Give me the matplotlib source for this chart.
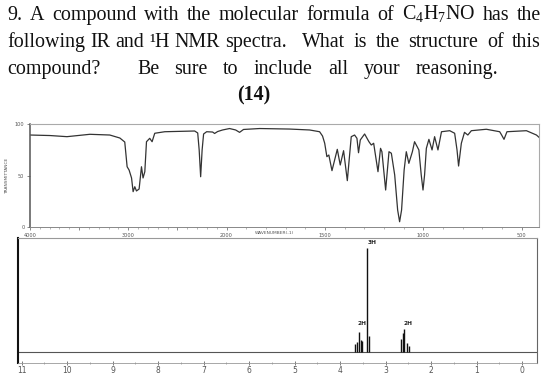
import numpy as np
import matplotlib
matplotlib.use("Agg")
import matplotlib.pyplot as plt
import matplotlib.transforms as mtransforms
from matplotlib.ticker import FixedLocator, FixedFormatter

plt.rcParams['mathtext.fontset'] = 'custom'
plt.rcParams['mathtext.rm'] = 'Liberation Serif'

W, H = 548, 376

#-------------------- question text (lines, split in justified segments)
line1 = ["9. A compound with the molecular formula of C$_\\mathrm{4}$H$_\\mathrm{7}$NO has the"]
line2 = ["following IR and \u00b9H NMR spectra.", "What is the structure of this"]
line3 = ["compound?", "Be sure to include all your reasoning."]
marks_label = "(14)"

#-------------------- IR spectrum (wavenumber cm-1, % transmittance)
ir_wn = [4000, 3797, 3624, 3391, 3188, 3086, 3036, 3012, 2992, 2967, 2951, 2934,
         2917, 2890, 2866, 2850, 2832, 2815, 2782, 2758, 2731, 2629, 2325, 2294,
         2279, 2264, 2249, 2234, 2203, 2142, 2122, 2091, 2041, 1985, 1954, 1934,
         1914, 1832, 1680, 1578, 1527, 1512, 1501, 1490, 1480, 1464, 1437, 1422,
         1405, 1386, 1366, 1349, 1337, 1329, 1320, 1298, 1276, 1264, 1252, 1230,
         1217, 1210, 1191, 1174, 1162, 1145, 1130, 1120, 1110, 1097, 1086, 1073,
         1055, 1044, 1022, 1010, 1001, 993, 984, 971, 955, 942, 925, 907, 865,
         840, 828, 820, 806, 790, 773, 755, 679, 611, 601, 589, 574, 475, 424, 411]
ir_t = [89.3, 88.8, 87.7, 90.0, 89.3, 86.4, 82.5, 58.5, 55.3, 47.6, 34.3, 39.1,
        35.0, 36.9, 58.5, 47.6, 53.7, 82.8, 86.1, 82.8, 91.0, 92.5, 93.2, 91.3,
        74.8, 48.8, 74.8, 90.3, 92.5, 92.2, 90.8, 92.7, 94.2, 95.6, 94.2, 91.9,
        94.7, 95.6, 95.1, 94.2, 92.5, 88.3, 81.3, 68.3, 69.9, 54.7, 75.4, 60.2,
        74.1, 45.0, 87.7, 89.3, 86.1, 72.1, 84.5, 90.3, 82.8, 79.6, 81.3, 53.7,
        76.4, 73.1, 35.9, 73.1, 71.6, 50.5, 16.5, 5.1, 16.5, 55.3, 73.1, 61.8,
        73.1, 82.8, 74.8, 50.5, 35.9, 50.5, 76.4, 85.1, 74.8, 87.7, 74.8, 92.5, 93.5,
        91.0, 74.8, 59.2, 81.3, 91.9, 89.3, 93.5, 94.9, 92.5, 89.3, 85.1, 92.5, 93.5, 89.3, 87.1]
ir_major = [4000, 3500, 3000, 2500, 2000, 1500, 1000, 500]
ir_major_labels = ["4000", "", "3000", "", "2000", "1500", "1000", "500"]

#-------------------- 1H NMR lines (ppm, relative height)
nmr_ppm = [3.67, 3.625, 3.585, 3.54, 3.51, 3.40, 3.365, 2.665, 2.62, 2.595, 2.525, 2.495]
nmr_int = [0.08, 0.10, 0.19, 0.115, 0.105, 1.00, 0.15, 0.12, 0.18, 0.22, 0.085, 0.06]
nmr_labels = ["3H", "2H", "2H"]
nmr_label_ppm = [3.30, 3.52, 2.51]
nmr_label_y = [1.05, 0.27, 0.27]

fig = plt.figure(figsize=(W / 100, H / 100), dpi=100)
fig.patch.set_facecolor("white")
pix = mtransforms.IdentityTransform()
renderer = fig.canvas.get_renderer()

def put_words(text, x0, x1, y, **kw):
    # spread the words of text so they fill x0..x1 (image pixels)
    words = text.split()
    objs = [fig.text(0, H - y, w, transform=pix, **kw) for w in words]
    widths = [o.get_window_extent(renderer).width for o in objs]
    gap = (x1 - x0 - sum(widths)) / max(len(words) - 1, 1)
    x = x0
    for o, w in zip(objs, widths):
        o.set_x(x)
        x += w + gap

tkw = dict(family="Liberation Serif", fontsize=14.4, color="#111111")
put_words(line1[0], 7, 541, 20, **tkw)
put_words(line2[0], 7, 287, 47, **tkw)
put_words(line2[1], 302, 541, 47, **tkw)
fig.text(7, H - 74, line3[0], transform=pix, **tkw)
put_words(line3[1], 137, 498, 74, **tkw)
fig.text(254, H - 100, marks_label, transform=pix, ha="center",
         family="Liberation Serif", fontsize=14.4, fontweight="bold", color="#111111")

#-------------------- IR panel
def fwd(w):
    w = np.asarray(w, dtype=float)
    return np.where(w >= 2000, (w - 2000) / 1000.0, (w - 2000) / 500.0)

def inv(p):
    p = np.asarray(p, dtype=float)
    return np.where(p >= 0, p * 1000.0 + 2000, p * 500.0 + 2000)

ax1 = fig.add_axes([30 / W, 1 - 227 / H, 509 / W, 103 / H])
ax1.set_xscale("function", functions=(fwd, inv))
ax1.plot(ir_wn, ir_t, color="#333333", lw=0.9)
ax1.set_xlim(4000, 411)
ax1.set_ylim(0, 100)
ax1.xaxis.set_major_locator(FixedLocator(ir_major))
ax1.xaxis.set_major_formatter(FixedFormatter(ir_major_labels))
ax1.xaxis.set_minor_locator(FixedLocator(list(range(4000, 400, -100))))
ax1.yaxis.set_major_locator(FixedLocator([0, 50, 100]))
ax1.set_yticklabels(["0", "50", "100"])
ax1.tick_params(axis="both", which="major", length=2.5, width=0.6, color="#777777",
                labelsize=3.6, labelcolor="#555555", pad=1.5)
ax1.tick_params(axis="x", which="minor", length=1.5, width=0.5, color="#999999")
ax1.set_xlabel("WAVENUMBER(-1)", fontsize=3.2, color="#555555", labelpad=-4)
ax1.xaxis.set_label_coords(0.48, -0.035)
ax1.set_ylabel("TRANSMITTANCE", fontsize=3.2, color="#555555", labelpad=4)
for s, c, lw in [("top", "#aaaaaa", 0.8), ("right", "#aaaaaa", 0.8),
                 ("left", "#555555", 1.1), ("bottom", "#888888", 0.7)]:
    ax1.spines[s].set_color(c)
    ax1.spines[s].set_linewidth(lw)

#-------------------- NMR panel
ax2 = fig.add_axes([18 / W, 1 - 363 / H, 519 / W, 125 / H])
ax2.axhline(0, color="#555555", lw=0.8)
ax2.vlines(nmr_ppm, 0, nmr_int, color="#111111", lw=1.0)
for lab, xp, yp in zip(nmr_labels, nmr_label_ppm, nmr_label_y):
    ax2.text(xp, yp, lab, ha="center", va="center", fontsize=4.2,
             fontweight="bold", color="#222222")
ax2.set_xlim(11.08, -0.33)
ax2.set_ylim(-0.106, 1.096)
ax2.set_xticks(list(range(11, -1, -1)))
ax2.set_xticklabels([str(i) for i in range(11, -1, -1)])
ax2.xaxis.set_minor_locator(FixedLocator([i + 0.5 for i in range(11)]))
ax2.set_yticks([])
ax2.tick_params(axis="x", which="major", direction="inout", length=3, width=0.6,
                color="#666666", labelsize=5.5, labelcolor="#555555", pad=1)
ax2.tick_params(axis="x", which="minor", direction="inout", length=2, width=0.5,
                color="#888888")
for s, c, lw in [("top", "#999999", 0.8), ("right", "#666666", 0.8),
                 ("left", "#111111", 1.5), ("bottom", "#999999", 0.6)]:
    ax2.spines[s].set_color(c)
    ax2.spines[s].set_linewidth(lw)

fig.savefig("out.png", dpi=100)
